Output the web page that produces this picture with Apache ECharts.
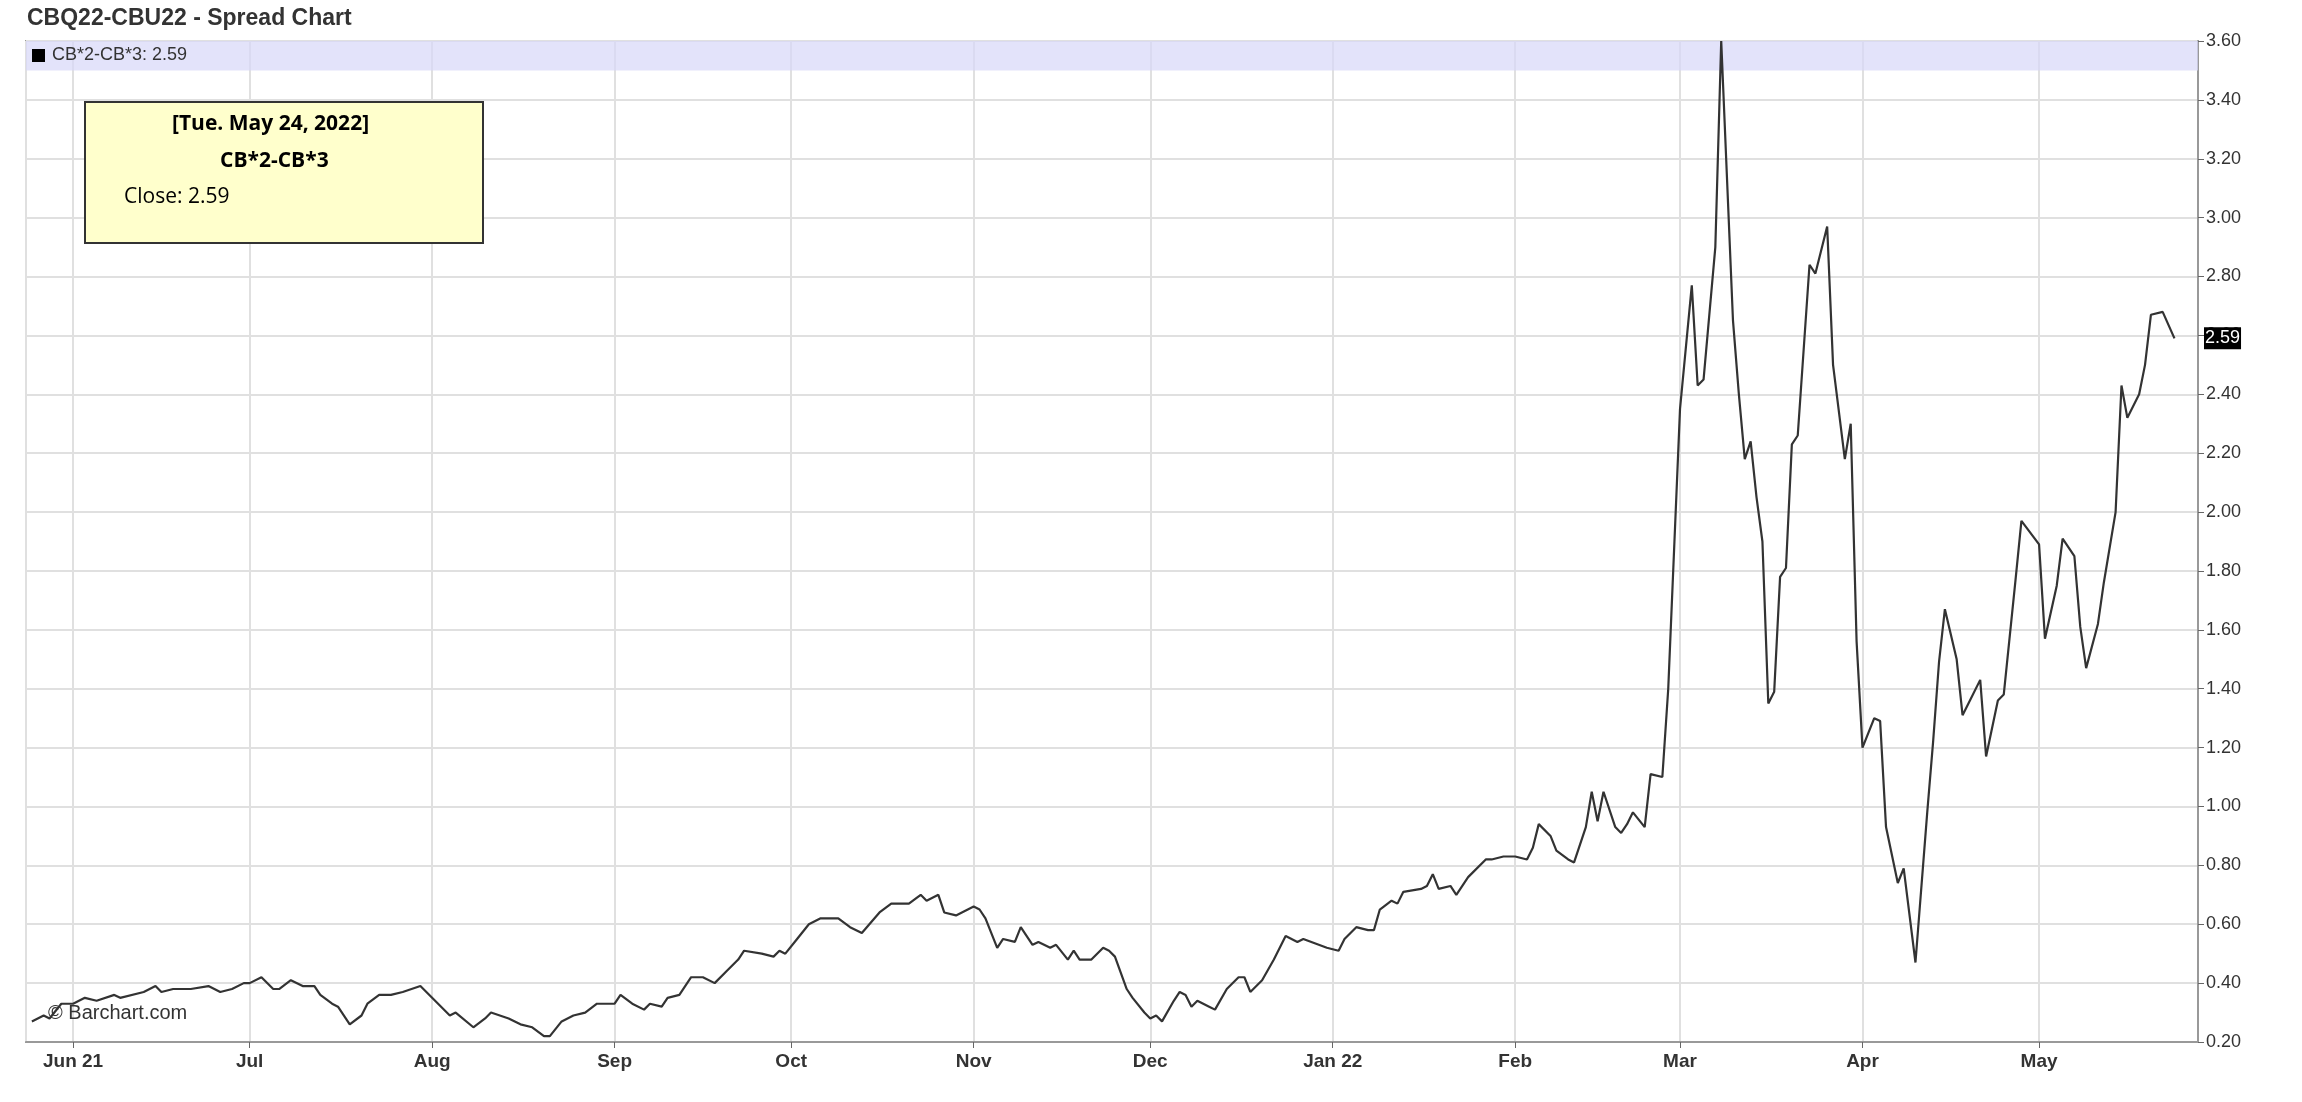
<!DOCTYPE html>
<html>
<head>
<meta charset="utf-8">
<script src="https://cdn.jsdelivr.net/npm/echarts@6/dist/echarts.min.js"></script>
<style>
html, body { margin: 0; padding: 0; background: #fff; }
#main { width: 2302px; height: 1102px; }
</style>
</head>
<body>
<div id="main"></div>
<script>
// 日期和收盘价 (读图估算)
var dates = [
    '2021-05-25','2021-05-27','2021-05-28','2021-05-30','2021-06-01','2021-06-03','2021-06-05','2021-06-08','2021-06-09','2021-06-13',
    '2021-06-15','2021-06-16','2021-06-18','2021-06-21','2021-06-24','2021-06-26','2021-06-28','2021-06-30','2021-07-01','2021-07-03',
    '2021-07-05','2021-07-06','2021-07-08','2021-07-10','2021-07-12','2021-07-13','2021-07-15','2021-07-16','2021-07-18','2021-07-20',
    '2021-07-21','2021-07-23','2021-07-25','2021-07-27','2021-07-30','2021-08-04','2021-08-05','2021-08-08','2021-08-10','2021-08-11',
    '2021-08-14','2021-08-16','2021-08-18','2021-08-20','2021-08-21','2021-08-23','2021-08-25','2021-08-27','2021-08-29','2021-09-01',
    '2021-09-02','2021-09-04','2021-09-06','2021-09-07','2021-09-09','2021-09-10','2021-09-12','2021-09-14','2021-09-16','2021-09-18',
    '2021-09-20','2021-09-22','2021-09-23','2021-09-26','2021-09-28','2021-09-29','2021-09-30','2021-10-02','2021-10-04','2021-10-06',
    '2021-10-09','2021-10-11','2021-10-13','2021-10-16','2021-10-18','2021-10-21','2021-10-23','2021-10-24','2021-10-26','2021-10-27',
    '2021-10-29','2021-10-30','2021-11-01','2021-11-02','2021-11-03','2021-11-05','2021-11-06','2021-11-08','2021-11-09','2021-11-11',
    '2021-11-12','2021-11-14','2021-11-15','2021-11-17','2021-11-18','2021-11-19','2021-11-21','2021-11-23','2021-11-24','2021-11-25',
    '2021-11-27','2021-11-28','2021-11-30','2021-12-01','2021-12-02','2021-12-03','2021-12-05','2021-12-06','2021-12-07','2021-12-08',
    '2021-12-09','2021-12-11','2021-12-12','2021-12-14','2021-12-16','2021-12-17','2021-12-18','2021-12-20','2021-12-22','2021-12-23',
    '2021-12-24','2021-12-26','2021-12-27','2021-12-31','2022-01-02','2022-01-03','2022-01-05','2022-01-07','2022-01-08','2022-01-09',
    '2022-01-11','2022-01-12','2022-01-13','2022-01-16','2022-01-17','2022-01-18','2022-01-19','2022-01-21','2022-01-22','2022-01-24',
    '2022-01-27','2022-01-28','2022-01-30','2022-01-31','2022-02-01','2022-02-03','2022-02-04','2022-02-05','2022-02-07','2022-02-08',
    '2022-02-10','2022-02-11','2022-02-13','2022-02-14','2022-02-15','2022-02-16','2022-02-18','2022-02-19','2022-02-20','2022-02-21',
    '2022-02-23','2022-02-24','2022-02-26','2022-02-27','2022-03-01','2022-03-03','2022-03-04','2022-03-05','2022-03-07','2022-03-08',
    '2022-03-10','2022-03-11','2022-03-12','2022-03-13','2022-03-14','2022-03-15','2022-03-16','2022-03-17','2022-03-18','2022-03-19',
    '2022-03-20','2022-03-21','2022-03-23','2022-03-24','2022-03-26','2022-03-27','2022-03-29','2022-03-30','2022-03-31','2022-04-01',
    '2022-04-03','2022-04-04','2022-04-05','2022-04-07','2022-04-08','2022-04-10','2022-04-12','2022-04-13','2022-04-14','2022-04-15',
    '2022-04-17','2022-04-18','2022-04-19','2022-04-21','2022-04-22','2022-04-24','2022-04-25','2022-04-27','2022-04-28','2022-05-01',
    '2022-05-02','2022-05-04','2022-05-05','2022-05-07','2022-05-08','2022-05-09','2022-05-11','2022-05-12','2022-05-14','2022-05-15',
    '2022-05-16','2022-05-18','2022-05-19','2022-05-20','2022-05-22','2022-05-24'
];
var closes = [
    0.27,0.29,0.28,0.33,0.33,0.35,0.34,0.36,0.35,0.37,
    0.39,0.37,0.38,0.38,0.39,0.37,0.38,0.40,0.40,0.42,
    0.38,0.38,0.41,0.39,0.39,0.36,0.33,0.32,0.26,0.29,
    0.33,0.36,0.36,0.37,0.39,0.29,0.30,0.25,0.28,0.30,
    0.28,0.26,0.25,0.22,0.22,0.27,0.29,0.30,0.33,0.33,
    0.36,0.33,0.31,0.33,0.32,0.35,0.36,0.42,0.42,0.40,
    0.44,0.48,0.51,0.50,0.49,0.51,0.50,0.55,0.60,0.62,
    0.62,0.59,0.57,0.64,0.67,0.67,0.70,0.68,0.70,0.64,
    0.63,0.64,0.66,0.65,0.62,0.52,0.55,0.54,0.59,0.53,
    0.54,0.52,0.53,0.48,0.51,0.48,0.48,0.52,0.51,0.49,
    0.38,0.35,0.30,0.28,0.29,0.27,0.34,0.37,0.36,0.32,
    0.34,0.32,0.31,0.38,0.42,0.42,0.37,0.41,0.48,0.52,
    0.56,0.54,0.55,0.52,0.51,0.55,0.59,0.58,0.58,0.65,
    0.68,0.67,0.71,0.72,0.73,0.77,0.72,0.73,0.70,0.76,
    0.82,0.82,0.83,0.83,0.83,0.82,0.86,0.94,0.90,0.85,
    0.82,0.81,0.93,1.05,0.95,1.05,0.93,0.91,0.94,0.98,
    0.93,1.11,1.10,1.40,2.35,2.77,2.43,2.45,2.90,3.60,
    2.65,2.40,2.18,2.24,2.05,1.90,1.35,1.39,1.78,1.81,
    2.23,2.26,2.84,2.81,2.97,2.50,2.18,2.30,1.56,1.20,
    1.30,1.29,0.93,0.74,0.79,0.47,0.98,1.22,1.49,1.67,
    1.50,1.31,1.35,1.43,1.17,1.36,1.38,1.77,1.97,1.89,
    1.57,1.75,1.91,1.85,1.61,1.47,1.62,1.76,2.00,2.43,
    2.32,2.40,2.50,2.67,2.68,2.59
];
var lastClose = closes[closes.length - 1];
var monthNames = ['Jan','Feb','Mar','Apr','May','Jun','Jul','Aug','Sep','Oct','Nov','Dec'];

(function() {
    var myechart = echarts.init(document.getElementById('main'));
    var seriesData = dates.map(function(d, i) { return [d, closes[i]]; });
    var option = {
        animation: false,
        backgroundColor: '#fff',
        title: {
            text: 'CBQ22-CBU22 - Spread Chart',
            left: 22, top: 2,
            textStyle: { fontFamily: 'Liberation Sans', fontSize: 23, fontWeight: 'bold', color: '#333' }
        },
        grid: { left: 26, right: 104, top: 41, bottom: 60, show: true, borderColor: '#999', borderWidth: 2 },
        xAxis: {
            type: 'time',
            min: '2021-05-24',
            max: '2022-05-28',
            minInterval: 28 * 86400000,
            maxInterval: 31 * 86400000,
            axisLine: { lineStyle: { color: '#999', width: 2 } },
            axisTick: { show: true, lineStyle: { color: '#666' }, length: 6 },
            splitLine: { show: true, lineStyle: { color: '#e0e0e0', width: 2 } },
            axisLabel: {
                color: '#333', fontFamily: 'Liberation Sans', fontSize: 19, fontWeight: 'bold', margin: 10,
                formatter: function(val) {
                    var d = new Date(val);
                    var m = d.getMonth();
                    var y = String(d.getFullYear()).slice(2);
                    if (m === 0 || (m === 5 && y === '21')) return monthNames[m] + ' ' + y;
                    return monthNames[m];
                }
            }
        },
        yAxis: {
            type: 'value',
            position: 'right',
            min: 0.2, max: 3.6, interval: 0.2,
            axisLine: { show: true, lineStyle: { color: '#999', width: 2 } },
            axisTick: { show: true, lineStyle: { color: '#666' }, length: 6 },
            splitLine: { lineStyle: { color: '#e0e0e0', width: 2 } },
            axisLabel: {
                color: '#333', fontFamily: 'Liberation Sans', fontSize: 18, margin: 8,
                formatter: function(v) { return v.toFixed(2); }
            }
        },
        series: [{
            type: 'line',
            data: seriesData,
            showSymbol: false,
            clip: false,
            lineStyle: { color: '#333', width: 2.2 },
            markArea: {
                silent: true,
                itemStyle: { color: 'rgba(215,215,248,0.7)' },
                data: [[{ yAxis: 3.5 }, { yAxis: 3.6 }]]
            },
            markLine: {
                silent: true,
                symbol: 'none',
                z: 10,
                lineStyle: { color: 'rgba(0,0,0,0)', width: 0, type: 'solid' },
                data: [{ yAxis: lastClose }],
                label: {
                    show: true,
                    position: 'end', distance: 6,
                    formatter: lastClose.toFixed(2),
                    backgroundColor: '#000', color: '#fff',
                    fontFamily: 'Liberation Sans', fontSize: 18, padding: [2, 1]
                }
            }
        }],
        graphic: [
            { type: 'rect', z: 100, left: 32, top: 49, shape: { width: 13, height: 13 }, style: { fill: '#000' } },
            { type: 'text', z: 100, left: 52, top: 46, style: { text: 'CB*2-CB*3: ' + lastClose.toFixed(2), font: '18px "Liberation Sans"', fill: '#333' } },
            { type: 'rect', z: 100, left: 84, top: 101, shape: { width: 398, height: 141 }, style: { fill: '#ffffcc', stroke: '#333', lineWidth: 2 } },
            { type: 'text', z: 101, left: 172, top: 114, style: { text: '[Tue. May 24, 2022]', font: 'bold 21px "Open Sans"', fill: '#000' } },
            { type: 'text', z: 101, left: 220, top: 151, style: { text: 'CB*2-CB*3', font: 'bold 21px "Open Sans"', fill: '#000' } },
            { type: 'text', z: 101, left: 124, top: 187, style: { text: 'Close: ' + lastClose.toFixed(2), font: '21px "Open Sans"', fill: '#000' } },
            { type: 'text', z: 100, left: 48, top: 1003, style: { text: '© Barchart.com', font: '20px "Liberation Sans"', fill: '#333' } }
        ]
    };
    myechart.setOption(option);
})();
</script>
</body>
</html>
